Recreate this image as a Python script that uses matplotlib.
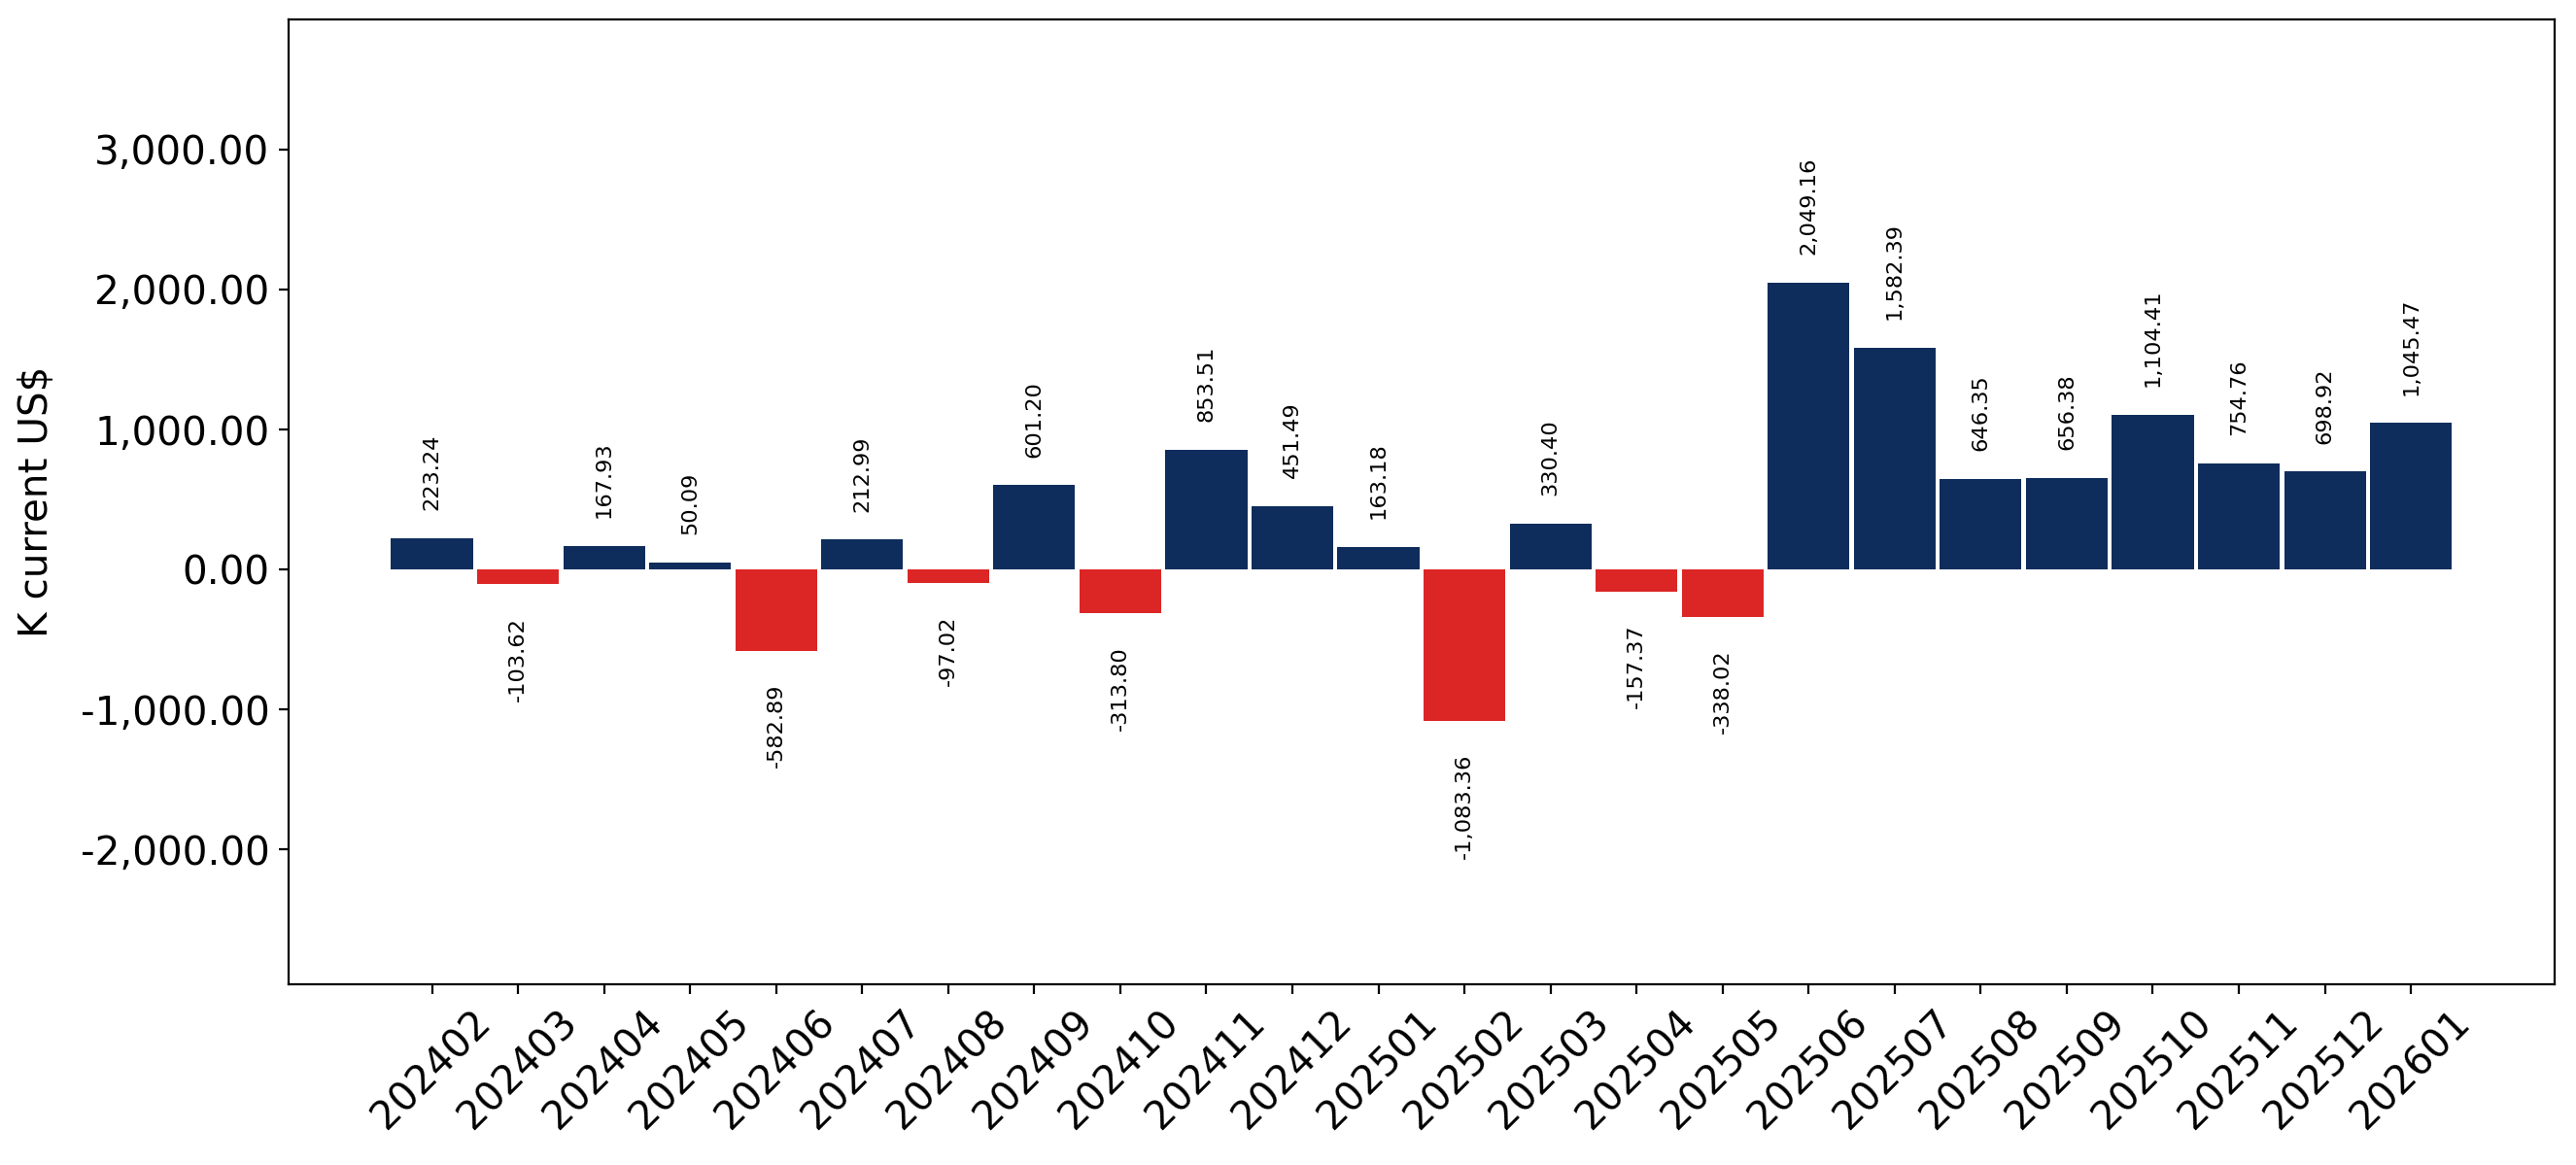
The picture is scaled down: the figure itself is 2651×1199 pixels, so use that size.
import matplotlib
matplotlib.use("Agg")
import matplotlib.pyplot as plt
from matplotlib.ticker import FuncFormatter

categories = ["202402", "202403", "202404", "202405", "202406", "202407", "202408",
              "202409", "202410", "202411", "202412", "202501", "202502", "202503",
              "202504", "202505", "202506", "202507", "202508", "202509", "202510",
              "202511", "202512", "202601"]
values = [223.24, -103.62, 167.93, 50.09, -582.89, 212.99, -97.02,
          601.20, -313.80, 853.51, 451.49, 163.18, -1083.36, 330.40,
          -157.37, -338.02, 2049.16, 1582.39, 646.35, 656.38, 1104.41,
          754.76, 698.92, 1045.47]
y_label = "K current US$"

POS = "#0e2d5c"
NEG = "#dc2626"

fig = plt.figure(figsize=(2651 / 200, 1199 / 200), dpi=200)
ax = fig.add_axes([0.112, 0.1551, 0.8797, 0.8282])

x = list(range(len(categories)))
colors = [POS if v >= 0 else NEG for v in values]
ax.bar(x, values, width=0.95, color=colors)

for xi, v in zip(x, values):
    txt = f"{v:,.2f}"
    if v >= 0:
        ax.annotate(txt, (xi, v), xytext=(0, 10.4), textcoords="offset points",
                    rotation=90, ha="center", va="bottom", fontsize=8.1)
    else:
        ax.annotate(txt, (xi, v), xytext=(0, -12.2), textcoords="offset points",
                    rotation=90, ha="center", va="top", fontsize=8.1)

vmin, vmax = min(values), max(values)
rng = vmax - vmin
ax.set_ylim(vmin - 0.6 * rng, vmax + 0.6 * rng)
ax.set_xlim(-1.667, len(categories) - 1 + 1.67)
ax.set_yticks([-2000, -1000, 0, 1000, 2000, 3000])
ax.yaxis.set_major_formatter(FuncFormatter(lambda v, p: f"{v:,.2f}"))
ax.set_xticks(x)
ax.set_xticklabels(categories, rotation=45, ha="center")
ax.tick_params(axis="both", labelsize=14.6)
ax.set_ylabel(y_label, fontsize=14.6, labelpad=9)

fig.savefig("out.png", dpi=200)
